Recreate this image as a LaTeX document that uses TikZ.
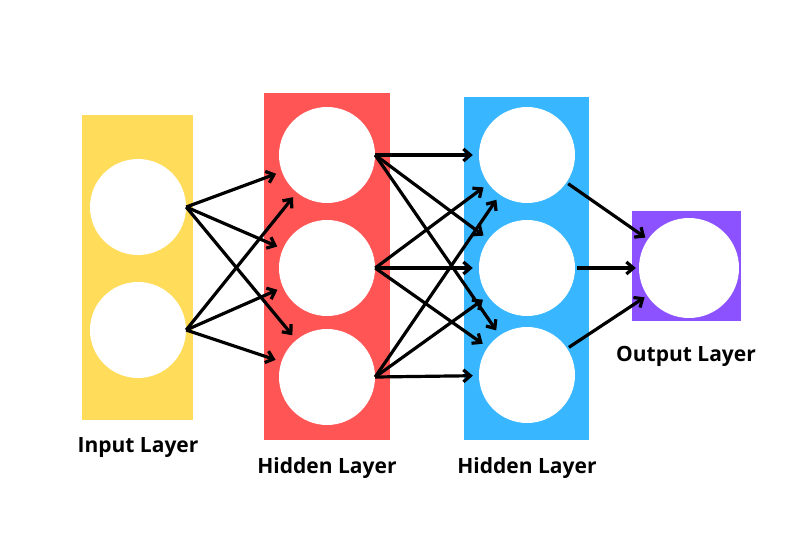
\documentclass[tikz,border=0pt]{standalone}
\usepackage{fontspec}
\setmainfont{Open Sans}
\usetikzlibrary{arrows.meta}
\begin{document}
\begin{tikzpicture}[x=1pt,y=-1pt,
  neuron/.style={circle,fill=white,minimum size=96pt,inner sep=0pt},
  conn/.style={line width=3.2pt,-{Straight Barb[length=7pt,width=12pt]},shorten >=6pt},
  lbl/.style={font=\bfseries\fontsize{21}{23}\selectfont}]
\useasboundingbox (0,0) rectangle (800,533);
\fill[white] (0,0) rectangle (800,533);
\fill[fill={rgb,255:red,255;green,220;blue,90}] (82,115) rectangle (193,420);
\fill[fill={rgb,255:red,255;green,85;blue,85}] (264,93) rectangle (390,440);
\fill[fill={rgb,255:red,56;green,182;blue,255}] (464,97) rectangle (589,440);
\fill[fill={rgb,255:red,140;green,82;blue,255}] (632,211) rectangle (741,321);
\node[neuron] (a1) at (138,207) {};
\node[neuron] (a2) at (138,330) {};
\node[neuron] (h1) at (327,155) {};
\node[neuron] (h2) at (327,268) {};
\node[neuron] (h3) at (327,377) {};
\node[neuron] (g1) at (527,155) {};
\node[neuron] (g2) at (527,268) {};
\node[neuron] (g3) at (527,375) {};
\node[neuron,minimum size=100pt] (o) at (689,268) {};
\foreach \s in {a1,a2}{\foreach \t in {h1,h2,h3}{\draw[conn] (\s.east) -- (\t);}}
\foreach \s in {h1,h2,h3}{\foreach \t in {g1,g2,g3}{\draw[conn] (\s.east) -- (\t);}}
\foreach \s in {g1,g2,g3}{\draw[conn,shorten >=3pt,shorten <=2pt] (\s) -- (o);}
\node[lbl] (l1) at (138,448) {Input Layer};
\node[lbl] (l2) at (327,468) {Hidden Layer};
\node[lbl] (l3) at (527,468) {Hidden Layer};
\node[lbl] (l4) at (686,356) {Output Layer};
\end{tikzpicture}
\end{document}
